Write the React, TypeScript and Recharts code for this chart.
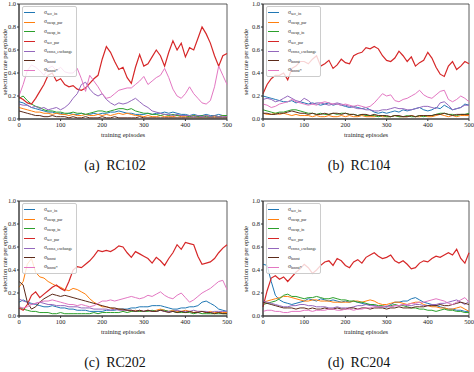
import { LineChart, Line, XAxis, YAxis, Legend, ReferenceArea } from "recharts";

// x positions (training episode), sampled every 10 episodes
const episodes = Array.from({ length: 51 }, (_, i) => i * 10);
const xTicks = [0, 100, 200, 300, 400, 500];
const yTicks = [0, 0.2, 0.4, 0.6, 0.8, 1.0];

const seriesNames = ["sec_in", "swap_par", "swap_in", "sec_par", "cross_exchange", "boost", "boost*"];
const seriesColors = ["#1f77b4", "#ff7f0e", "#2ca02c", "#d62728", "#9467bd", "#5c2a1a", "#e377c2"];

// ---- RC102 ----
const rc102SecIn = [
  0.15, 0.14, 0.12, 0.10, 0.09, 0.08, 0.07, 0.06, 0.06, 0.05,
  0.05, 0.04, 0.05, 0.04, 0.04, 0.05, 0.04, 0.04, 0.05, 0.04,
  0.05, 0.05, 0.06, 0.06, 0.07, 0.06, 0.05, 0.05, 0.04, 0.04,
  0.04, 0.05, 0.04, 0.05, 0.05, 0.06, 0.05, 0.06, 0.05, 0.04,
  0.04, 0.03, 0.04, 0.03, 0.03, 0.04, 0.03, 0.03, 0.04, 0.03, 0.03,
];
const rc102SwapPar = [
  0.10, 0.09, 0.08, 0.07, 0.06, 0.06, 0.05, 0.05, 0.04, 0.05,
  0.04, 0.04, 0.03, 0.04, 0.03, 0.03, 0.04, 0.03, 0.03, 0.04,
  0.03, 0.04, 0.03, 0.04, 0.05, 0.04, 0.05, 0.04, 0.03, 0.03,
  0.02, 0.03, 0.02, 0.02, 0.03, 0.02, 0.02, 0.02, 0.03, 0.02,
  0.02, 0.02, 0.03, 0.02, 0.02, 0.03, 0.02, 0.02, 0.02, 0.03, 0.02,
];
const rc102SwapIn = [
  0.18, 0.20, 0.16, 0.13, 0.11, 0.10, 0.08, 0.07, 0.07, 0.06,
  0.06, 0.05, 0.05, 0.06, 0.05, 0.05, 0.04, 0.05, 0.06, 0.07,
  0.07, 0.06, 0.07, 0.08, 0.09, 0.09, 0.08, 0.09, 0.07, 0.06,
  0.05, 0.05, 0.04, 0.04, 0.03, 0.04, 0.03, 0.04, 0.03, 0.03,
  0.03, 0.02, 0.03, 0.02, 0.03, 0.02, 0.02, 0.03, 0.02, 0.03, 0.03,
];
const rc102SecPar = [
  0.19, 0.17, 0.14, 0.13, 0.18, 0.24, 0.30, 0.38, 0.40, 0.33,
  0.35, 0.30, 0.28, 0.29, 0.26, 0.25, 0.27, 0.31, 0.35, 0.38,
  0.52, 0.63, 0.58, 0.50, 0.43, 0.45, 0.36, 0.31, 0.45, 0.56,
  0.46, 0.48, 0.54, 0.60, 0.55, 0.46, 0.58, 0.68, 0.60, 0.66,
  0.54, 0.62, 0.60, 0.70, 0.80, 0.74, 0.66, 0.55, 0.46, 0.55, 0.57,
];
const rc102Cross = [
  0.13, 0.12, 0.12, 0.10, 0.11, 0.09, 0.10, 0.08, 0.09, 0.10,
  0.08, 0.10, 0.13, 0.18, 0.22, 0.30, 0.32, 0.26, 0.22, 0.20,
  0.22, 0.17, 0.14, 0.12, 0.14, 0.13, 0.14, 0.16, 0.18, 0.15,
  0.12, 0.10, 0.07, 0.06, 0.05, 0.04, 0.04, 0.03, 0.04, 0.03,
  0.03, 0.03, 0.02, 0.03, 0.02, 0.03, 0.02, 0.03, 0.02, 0.02, 0.02,
];
const rc102Boost = [
  0.07, 0.06, 0.05, 0.04, 0.03, 0.03, 0.02, 0.02, 0.03, 0.02,
  0.02, 0.02, 0.01, 0.02, 0.01, 0.01, 0.02, 0.01, 0.01, 0.01,
  0.02, 0.01, 0.01, 0.02, 0.01, 0.01, 0.01, 0.01, 0.01, 0.02,
  0.01, 0.01, 0.01, 0.01, 0.01, 0.01, 0.01, 0.01, 0.01, 0.01,
  0.01, 0.01, 0.01, 0.01, 0.01, 0.01, 0.01, 0.01, 0.01, 0.01, 0.01,
];
const rc102BoostStar = [
  0.20, 0.30, 0.42, 0.47, 0.45, 0.42, 0.38, 0.44, 0.46, 0.42,
  0.45, 0.41, 0.40, 0.40, 0.44, 0.35, 0.24, 0.38, 0.33, 0.28,
  0.22, 0.18, 0.19, 0.22, 0.25, 0.26, 0.27, 0.27, 0.30, 0.33,
  0.37, 0.30, 0.33, 0.36, 0.38, 0.44, 0.36, 0.26, 0.20, 0.18,
  0.22, 0.28, 0.22, 0.18, 0.14, 0.13, 0.16, 0.28, 0.46, 0.38, 0.30,
];

// ---- RC104 ----
const rc104SecIn = [
  0.20, 0.19, 0.18, 0.17, 0.16, 0.15, 0.15, 0.16, 0.14, 0.15,
  0.14, 0.13, 0.14, 0.13, 0.12, 0.13, 0.14, 0.12, 0.13, 0.12,
  0.11, 0.10, 0.11, 0.10, 0.09, 0.10, 0.08, 0.06, 0.05, 0.06,
  0.05, 0.06, 0.07, 0.06, 0.08, 0.07, 0.08, 0.09, 0.10, 0.08,
  0.07, 0.08, 0.10, 0.09, 0.12, 0.10, 0.08, 0.09, 0.10, 0.13, 0.12,
];
const rc104SwapPar = [
  0.05, 0.04, 0.04, 0.05, 0.04, 0.05, 0.04, 0.03, 0.04, 0.03,
  0.03, 0.03, 0.02, 0.03, 0.02, 0.02, 0.03, 0.02, 0.02, 0.03,
  0.02, 0.03, 0.02, 0.02, 0.03, 0.02, 0.02, 0.02, 0.03, 0.02,
  0.02, 0.02, 0.03, 0.02, 0.02, 0.02, 0.03, 0.02, 0.02, 0.03,
  0.02, 0.02, 0.03, 0.04, 0.03, 0.02, 0.03, 0.02, 0.03, 0.03, 0.03,
];
const rc104SwapIn = [
  0.08, 0.07, 0.06, 0.05, 0.06, 0.06, 0.07, 0.08, 0.08, 0.07,
  0.06, 0.05, 0.05, 0.04, 0.05, 0.04, 0.04, 0.05, 0.04, 0.05,
  0.05, 0.04, 0.04, 0.03, 0.04, 0.03, 0.03, 0.03, 0.02, 0.03,
  0.02, 0.02, 0.03, 0.02, 0.02, 0.03, 0.02, 0.02, 0.03, 0.02,
  0.03, 0.03, 0.04, 0.05, 0.05, 0.04, 0.04, 0.03, 0.04, 0.04, 0.05,
];
const rc104SecPar = [
  0.22, 0.30, 0.35, 0.38, 0.38, 0.40, 0.34, 0.44, 0.46, 0.50,
  0.50, 0.48, 0.52, 0.55, 0.46, 0.48, 0.51, 0.44, 0.47, 0.52,
  0.49, 0.48, 0.55, 0.57, 0.58, 0.62, 0.61, 0.63, 0.61, 0.55,
  0.51, 0.50, 0.53, 0.59, 0.55, 0.50, 0.54, 0.46, 0.49, 0.51,
  0.58, 0.53, 0.45, 0.39, 0.37, 0.46, 0.50, 0.43, 0.46, 0.50, 0.48,
];
const rc104Cross = [
  0.17, 0.18, 0.17, 0.15, 0.16, 0.18, 0.20, 0.18, 0.16, 0.15,
  0.18, 0.16, 0.13, 0.14, 0.14, 0.13, 0.12, 0.13, 0.14, 0.13,
  0.12, 0.11, 0.10, 0.09, 0.09, 0.08, 0.08, 0.07, 0.07, 0.08,
  0.08, 0.09, 0.10, 0.09, 0.09, 0.08, 0.08, 0.09, 0.10, 0.11,
  0.11, 0.10, 0.09, 0.14, 0.15, 0.12, 0.08, 0.09, 0.10, 0.12, 0.12,
];
const rc104Boost = [
  0.05, 0.05, 0.04, 0.04, 0.05, 0.05, 0.06, 0.07, 0.06, 0.05,
  0.05, 0.04, 0.05, 0.04, 0.04, 0.05, 0.04, 0.05, 0.05, 0.04,
  0.05, 0.04, 0.04, 0.03, 0.04, 0.04, 0.03, 0.04, 0.03, 0.03,
  0.03, 0.02, 0.03, 0.03, 0.02, 0.02, 0.03, 0.02, 0.03, 0.03,
  0.03, 0.03, 0.04, 0.04, 0.05, 0.04, 0.03, 0.04, 0.04, 0.04, 0.04,
];
const rc104BoostStar = [
  0.13, 0.12, 0.10, 0.11, 0.13, 0.14, 0.15, 0.17, 0.15, 0.14,
  0.13, 0.12, 0.13, 0.12, 0.14, 0.15, 0.14, 0.13, 0.13, 0.12,
  0.13, 0.12, 0.11, 0.12, 0.11, 0.10, 0.11, 0.14, 0.18, 0.22,
  0.20, 0.21, 0.16, 0.15, 0.17, 0.18, 0.20, 0.22, 0.25, 0.21,
  0.19, 0.18, 0.21, 0.24, 0.25, 0.17, 0.15, 0.17, 0.20, 0.18, 0.15,
];

// ---- RC202 ----
const rc202SecIn = [
  0.12, 0.14, 0.12, 0.11, 0.10, 0.09, 0.08, 0.08, 0.09, 0.08,
  0.07, 0.07, 0.06, 0.06, 0.05, 0.05, 0.05, 0.04, 0.04, 0.04,
  0.04, 0.05, 0.05, 0.05, 0.06, 0.06, 0.06, 0.07, 0.07, 0.08,
  0.08, 0.08, 0.09, 0.09, 0.09, 0.08, 0.07, 0.06, 0.06, 0.07,
  0.07, 0.08, 0.08, 0.09, 0.12, 0.13, 0.11, 0.09, 0.06, 0.05, 0.04,
];
const rc202SwapPar = [
  0.25, 0.30, 0.45, 0.50, 0.38, 0.34, 0.33, 0.30, 0.28, 0.26,
  0.25, 0.23, 0.22, 0.24, 0.23, 0.21, 0.19, 0.15, 0.12, 0.10,
  0.08, 0.08, 0.07, 0.06, 0.06, 0.05, 0.05, 0.04, 0.05, 0.04,
  0.04, 0.05, 0.04, 0.05, 0.06, 0.05, 0.04, 0.05, 0.04, 0.04,
  0.05, 0.04, 0.03, 0.04, 0.04, 0.03, 0.04, 0.03, 0.03, 0.03, 0.03,
];
const rc202SwapIn = [
  0.08, 0.06, 0.05, 0.04, 0.04, 0.03, 0.03, 0.03, 0.02, 0.02,
  0.03, 0.02, 0.02, 0.02, 0.02, 0.02, 0.02, 0.02, 0.03, 0.02,
  0.03, 0.03, 0.03, 0.03, 0.03, 0.04, 0.03, 0.04, 0.04, 0.04,
  0.04, 0.04, 0.05, 0.04, 0.05, 0.05, 0.04, 0.04, 0.03, 0.03,
  0.03, 0.03, 0.02, 0.03, 0.02, 0.02, 0.02, 0.02, 0.02, 0.02, 0.02,
];
const rc202SecPar = [
  0.07, 0.05, 0.10, 0.18, 0.21, 0.16, 0.19, 0.22, 0.25, 0.27,
  0.24, 0.22, 0.30, 0.40, 0.43, 0.42, 0.45, 0.48, 0.52, 0.57,
  0.56, 0.57, 0.56, 0.58, 0.61, 0.60, 0.55, 0.51, 0.56, 0.54,
  0.52, 0.50, 0.46, 0.51, 0.48, 0.44, 0.50, 0.55, 0.62, 0.58,
  0.64, 0.63, 0.62, 0.52, 0.45, 0.46, 0.47, 0.50, 0.55, 0.59, 0.62,
];
const rc202Cross = [
  0.15, 0.13, 0.12, 0.10, 0.11, 0.12, 0.11, 0.10, 0.10, 0.09,
  0.09, 0.09, 0.08, 0.08, 0.08, 0.07, 0.07, 0.07, 0.06, 0.06,
  0.06, 0.06, 0.05, 0.06, 0.05, 0.05, 0.05, 0.05, 0.04, 0.05,
  0.04, 0.05, 0.04, 0.04, 0.05, 0.04, 0.04, 0.04, 0.05, 0.04,
  0.04, 0.04, 0.05, 0.04, 0.04, 0.04, 0.03, 0.04, 0.04, 0.04, 0.04,
];
const rc202Boost = [
  0.30, 0.27, 0.12, 0.06, 0.08, 0.12, 0.15, 0.17, 0.19, 0.18,
  0.17, 0.18, 0.17, 0.16, 0.15, 0.14, 0.13, 0.12, 0.11, 0.10,
  0.09, 0.08, 0.07, 0.07, 0.06, 0.06, 0.05, 0.05, 0.04, 0.05,
  0.04, 0.05, 0.04, 0.04, 0.05, 0.04, 0.03, 0.04, 0.03, 0.04,
  0.03, 0.04, 0.03, 0.03, 0.04, 0.03, 0.03, 0.02, 0.03, 0.02, 0.02,
];
const rc202BoostStar = [
  0.08, 0.07, 0.08, 0.10, 0.11, 0.12, 0.13, 0.13, 0.14, 0.13,
  0.12, 0.11, 0.10, 0.10, 0.09, 0.10, 0.09, 0.08, 0.09, 0.11,
  0.13, 0.13, 0.14, 0.13, 0.14, 0.15, 0.16, 0.17, 0.16, 0.15,
  0.16, 0.18, 0.17, 0.19, 0.21, 0.18, 0.16, 0.15, 0.18, 0.20,
  0.16, 0.12, 0.14, 0.17, 0.20, 0.22, 0.24, 0.27, 0.30, 0.31, 0.23,
];

// ---- RC204 ----
const rc204SecIn = [
  0.45, 0.44, 0.30, 0.18, 0.14, 0.12, 0.11, 0.10, 0.11, 0.12,
  0.13, 0.15, 0.14, 0.13, 0.15, 0.14, 0.13, 0.14, 0.13, 0.12,
  0.13, 0.12, 0.13, 0.12, 0.11, 0.10, 0.10, 0.09, 0.08, 0.08,
  0.08, 0.10, 0.12, 0.12, 0.13, 0.13, 0.15, 0.16, 0.14, 0.12,
  0.11, 0.10, 0.09, 0.08, 0.07, 0.06, 0.06, 0.05, 0.05, 0.04, 0.04,
];
const rc204SwapPar = [
  0.12, 0.13, 0.14, 0.15, 0.16, 0.17, 0.17, 0.16, 0.15, 0.14,
  0.13, 0.13, 0.14, 0.14, 0.13, 0.13, 0.13, 0.12, 0.12, 0.12,
  0.12, 0.12, 0.13, 0.13, 0.12, 0.13, 0.14, 0.13, 0.11, 0.10,
  0.10, 0.11, 0.12, 0.12, 0.11, 0.10, 0.11, 0.12, 0.12, 0.10,
  0.09, 0.08, 0.08, 0.07, 0.07, 0.06, 0.06, 0.07, 0.08, 0.06, 0.04,
];
const rc204SwapIn = [
  0.10, 0.11, 0.12, 0.13, 0.15, 0.18, 0.19, 0.17, 0.17, 0.16,
  0.15, 0.16, 0.16, 0.17, 0.16, 0.15, 0.15, 0.16, 0.15, 0.14,
  0.14, 0.13, 0.13, 0.12, 0.12, 0.11, 0.10, 0.10, 0.09, 0.09,
  0.08, 0.09, 0.10, 0.09, 0.09, 0.08, 0.07, 0.07, 0.06, 0.06,
  0.05, 0.05, 0.04, 0.05, 0.06, 0.05, 0.05, 0.04, 0.04, 0.03, 0.03,
];
const rc204SecPar = [
  0.08, 0.22, 0.33, 0.35, 0.32, 0.34, 0.30, 0.34, 0.38, 0.41,
  0.45, 0.42, 0.37, 0.40, 0.44, 0.47, 0.48, 0.44, 0.50, 0.48,
  0.44, 0.42, 0.47, 0.49, 0.46, 0.51, 0.53, 0.55, 0.52, 0.50,
  0.51, 0.53, 0.48, 0.46, 0.48, 0.45, 0.41, 0.42, 0.46, 0.48,
  0.47, 0.50, 0.52, 0.51, 0.53, 0.55, 0.53, 0.58, 0.50, 0.46, 0.55,
];
const rc204Cross = [
  0.13, 0.12, 0.11, 0.10, 0.09, 0.08, 0.08, 0.09, 0.09, 0.10,
  0.10, 0.09, 0.09, 0.08, 0.08, 0.08, 0.07, 0.07, 0.08, 0.07,
  0.07, 0.07, 0.08, 0.09, 0.09, 0.10, 0.09, 0.09, 0.08, 0.08,
  0.08, 0.08, 0.09, 0.09, 0.10, 0.09, 0.09, 0.10, 0.10, 0.09,
  0.09, 0.10, 0.10, 0.11, 0.11, 0.12, 0.13, 0.14, 0.12, 0.10, 0.13,
];
const rc204Boost = [
  0.12, 0.11, 0.10, 0.09, 0.08, 0.07, 0.07, 0.07, 0.06, 0.07,
  0.07, 0.06, 0.07, 0.06, 0.06, 0.07, 0.06, 0.06, 0.07, 0.06,
  0.06, 0.07, 0.07, 0.06, 0.07, 0.07, 0.06, 0.07, 0.07, 0.07,
  0.06, 0.07, 0.07, 0.08, 0.07, 0.07, 0.07, 0.08, 0.08, 0.08,
  0.09, 0.09, 0.09, 0.10, 0.09, 0.09, 0.10, 0.11, 0.12, 0.11, 0.10,
];
const rc204BoostStar = [
  0.04, 0.05, 0.05, 0.04, 0.04, 0.03, 0.03, 0.04, 0.04, 0.04,
  0.05, 0.05, 0.04, 0.05, 0.05, 0.05, 0.06, 0.06, 0.05, 0.05,
  0.06, 0.06, 0.05, 0.06, 0.06, 0.07, 0.07, 0.08, 0.08, 0.08,
  0.09, 0.08, 0.09, 0.09, 0.10, 0.10, 0.11, 0.11, 0.12, 0.12,
  0.13, 0.14, 0.15, 0.14, 0.13, 0.11, 0.10, 0.12, 0.14, 0.16, 0.12,
];

const serif = "'Liberation Serif', 'DejaVu Serif', serif";
const tickStyle = { fontSize: 6.5, fill: "#222", fontFamily: serif };

function LegendBox() {
  return (
    <div
      style={{
        background: "rgba(255,255,255,0.8)",
        border: "1px solid #ccc",
        borderRadius: 2,
        padding: "1px 4px 1px 1px",
        fontFamily: serif,
        color: "#222",
      }}
    >
      {seriesNames.map((name, i) => (
        <div key={name} style={{ display: "flex", alignItems: "center", height: 9.6 }}>
          <span style={{ width: 11, borderTop: `1px solid ${seriesColors[i]}`, marginRight: 9 }} />
          <span style={{ fontSize: 5.5, lineHeight: 1 }}>
            σ<span style={{ fontSize: 4, verticalAlign: "-1px" }}>{name}</span>
          </span>
        </div>
      ))}
    </div>
  );
}

type PanelProps = {
  left: number;
  top: number;
  width: number;
  yAxisWidth: number;
  marginRight: number;
  yLabelX: number;
  captionX: number;
  caption: string;
  series: number[][];
};

function Panel({ left, top, width, yAxisWidth, marginRight, yLabelX, captionX, caption, series }: PanelProps) {
  const data = episodes.map((ep, i) => {
    const row: Record<string, number> = { ep };
    series.forEach((s, k) => {
      row[`s${k}`] = s[i];
    });
    return row;
  });
  const plotCenterX = yAxisWidth + (width - yAxisWidth - marginRight) / 2;

  return (
    <div style={{ position: "absolute", left, top, width, height: 180 }}>
      <LineChart width={width} height={140} data={data} margin={{ top: 4, right: marginRight, left: 0, bottom: 0 }}>
        <XAxis
          dataKey="ep"
          type="number"
          domain={[0, 500]}
          ticks={xTicks}
          height={21}
          tickSize={2}
          tickMargin={1}
          tick={tickStyle}
          stroke="#333"
        />
        <YAxis
          type="number"
          domain={[0, 1]}
          ticks={yTicks}
          width={yAxisWidth}
          tickSize={2}
          tickMargin={1}
          tickFormatter={(v: number) => v.toFixed(1)}
          tick={tickStyle}
          stroke="#333"
        />
        <ReferenceArea x1={0} x2={500} y1={0} y2={1} fill="none" stroke="#333" strokeWidth={0.8} />
        {series.map((_, k) => (
          <Line
            key={k}
            dataKey={`s${k}`}
            name={`σ${seriesNames[k]}`}
            type="linear"
            stroke={seriesColors[k]}
            strokeWidth={k === 3 ? 1.2 : 1}
            dot={false}
            isAnimationActive={false}
          />
        ))}
        <Legend
          content={<LegendBox />}
          layout="vertical"
          align="center"
          verticalAlign="middle"
          wrapperStyle={{ left: yAxisWidth + 3, top: 6, width: "auto" }}
        />
      </LineChart>
      <div
        style={{
          position: "absolute",
          left: yLabelX - 60,
          top: 61.5 - 4,
          width: 120,
          height: 8,
          lineHeight: "8px",
          textAlign: "center",
          fontFamily: serif,
          fontSize: 6.5,
          color: "#222",
          transform: "rotate(-90deg)",
        }}
      >
        selection rate per episode
      </div>
      <div
        style={{
          position: "absolute",
          left: plotCenterX - 50,
          top: 131,
          width: 100,
          lineHeight: "8px",
          textAlign: "center",
          fontFamily: serif,
          fontSize: 6.5,
          color: "#222",
        }}
      >
        training episodes
      </div>
      <div
        style={{
          position: "absolute",
          left: captionX - 60,
          top: 158,
          width: 120,
          lineHeight: "16px",
          textAlign: "center",
          fontFamily: serif,
          fontSize: 14,
          wordSpacing: 3,
          color: "#111",
        }}
      >
        {caption}
      </div>
    </div>
  );
}

export default function App() {
  return (
    <div style={{ position: "absolute", left: 0, top: 0, width: 474, height: 372, background: "#fff", overflow: "hidden" }}>
      <Panel
        left={0}
        top={0}
        width={235}
        yAxisWidth={19}
        marginRight={8}
        yLabelX={5}
        captionX={115}
        caption="(a) RC102"
        series={[rc102SecIn, rc102SwapPar, rc102SwapIn, rc102SecPar, rc102Cross, rc102Boost, rc102BoostStar]}
      />
      <Panel
        left={237}
        top={0}
        width={237}
        yAxisWidth={26}
        marginRight={5}
        yLabelX={9}
        captionX={122}
        caption="(b) RC104"
        series={[rc104SecIn, rc104SwapPar, rc104SwapIn, rc104SecPar, rc104Cross, rc104Boost, rc104BoostStar]}
      />
      <Panel
        left={0}
        top={197}
        width={235}
        yAxisWidth={19}
        marginRight={8}
        yLabelX={5}
        captionX={115}
        caption="(c) RC202"
        series={[rc202SecIn, rc202SwapPar, rc202SwapIn, rc202SecPar, rc202Cross, rc202Boost, rc202BoostStar]}
      />
      <Panel
        left={237}
        top={197}
        width={237}
        yAxisWidth={26}
        marginRight={5}
        yLabelX={9}
        captionX={122}
        caption="(d) RC204"
        series={[rc204SecIn, rc204SwapPar, rc204SwapIn, rc204SecPar, rc204Cross, rc204Boost, rc204BoostStar]}
      />
    </div>
  );
}
